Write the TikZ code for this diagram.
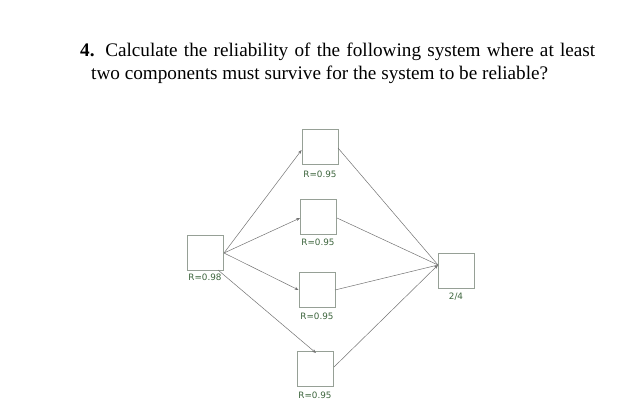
\documentclass[tikz,border=0pt]{standalone}
\usepackage{fontspec}
\setmainfont{Liberation Serif}
\newfontfamily\lblfont{DejaVu Sans}
\usetikzlibrary{arrows.meta}
\definecolor{boxc}{RGB}{150,160,150}
\definecolor{lblc}{RGB}{60,100,60}
\begin{document}
\begin{tikzpicture}[x=1pt,y=-1pt,
  blk/.style={draw=boxc,line width=0.8pt,minimum width=36pt,minimum height=35pt,inner sep=0pt},
  lbl/.style={font=\lblfont\fontsize{8.8}{10}\selectfont,text=lblc,inner sep=0pt},
  con/.style={draw=black!55,line width=0.5pt},
  arr/.style={con,-{Stealth[length=4pt,width=3pt]}}]
\useasboundingbox (0,0) rectangle (627,406);
\node[anchor=west,inner sep=0pt,font=\fontsize{19.2}{22}\selectfont] (t1) at (80,52) {\makebox[515pt][s]{\textbf{4.} Calculate the reliability of the following system where at least}};
\node[anchor=west,inner sep=0pt,font=\fontsize{19.2}{22}\selectfont] (t2) at (91,75) {two components must survive for the system to be reliable?};
\node[blk] (L) at (205.5,252.5) {};
\node[lbl] (Ll) at (205,277) {R=0.98};
\node[blk] (A) at (320,147) {};
\node[lbl] (Al) at (320,174) {R=0.95};
\node[blk] (B) at (318.5,216.5) {};
\node[lbl] (Bl) at (318,242) {R=0.95};
\node[blk] (C) at (317,290) {};
\node[lbl] (Cl) at (317,316) {R=0.95};
\node[blk] (D) at (315.5,369) {};
\node[lbl] (Dl) at (315,395) {R=0.95};
\node[blk] (R) at (456,270.5) {};
\node[lbl] (Rl) at (456,297) {2/4};
\coordinate (ls) at (224,253);
\coordinate (rs) at (438,265);
\draw[arr] (ls) -- (A.west |- 0,150);
\draw[arr] (ls) -- (B.west |- 0,218);
\draw[arr] (ls) -- (C.west |- 0,290);
\draw[arr] (218,270) -- (316,353);
\draw[con] (338,148) -- (rs);
\draw[con] (337,218) -- (rs);
\draw[con] (335,290) -- (rs);
\draw[arr] (334,367) -- (rs);
\end{tikzpicture}
\end{document}
